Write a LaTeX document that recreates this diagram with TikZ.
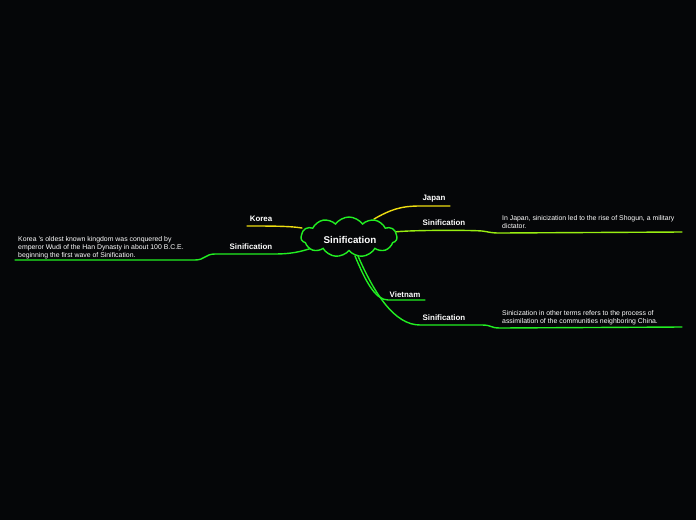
\documentclass[tikz,border=0pt]{standalone}
\usepackage{fontspec}
\setmainfont{Liberation Sans}
\usetikzlibrary{shapes.symbols}
\definecolor{bg}{HTML}{050608}
\definecolor{gr}{HTML}{22EE22}
\definecolor{yl}{HTML}{EEDD11}
\definecolor{yg}{HTML}{99EE11}
\begin{document}
\begin{tikzpicture}[x=1pt,y=-1pt,
  lbl/.style={text=white,font=\bfseries\fontsize{7.9}{8.5}\selectfont,inner sep=0},
  note/.style={text=white,font=\fontsize{6.9}{8}\selectfont,align=left,inner sep=0,anchor=west},
  br/.style={line width=1.4pt,line cap=round}]
\fill[bg] (0,0) rectangle (696,520);
\useasboundingbox (0,0) rectangle (696,520);
\coordinate (k1) at (302,228); \coordinate (k2) at (247,226);
\coordinate (j1) at (374,219); \coordinate (j2) at (450,206);
\coordinate (s1) at (394,232); \coordinate (s2) at (682,232);
\coordinate (l1) at (312,248); \coordinate (l2) at (15,260);
\coordinate (v1) at (355,256); \coordinate (v2) at (425,300);
\coordinate (b1) at (358,256); \coordinate (b2) at (682,327);
\draw[br,yl] (k1) .. controls (290,226) and (270,226) .. (k2);
\draw[br,yl] (j1) .. controls (390,210) and (400,206) .. (420,206) -- (j2);
\draw[br,yg] (s1) .. controls (410,230) and (470,230) .. (482,231) .. controls (490,232) and (490,233) .. (500,233) -- (s2);
\draw[br,gr] (l1) .. controls (300,252) and (290,254) .. (275,254) -- (215,254) .. controls (205,254) and (205,260) .. (195,260) -- (l2);
\draw[br,gr] (v1) .. controls (365,280) and (375,300) .. (388,300) -- (v2);
\draw[br,gr] (b1) .. controls (375,295) and (395,325) .. (420,325) -- (482,325) .. controls (492,325) and (490,328) .. (500,328) -- (b2);
\node[cloud,cloud puffs=11,cloud puff arc=110,aspect=2.6,draw=gr,line width=1.4pt,fill=bg,minimum width=96pt,minimum height=40pt,inner sep=0] (c) at (349,237) {};
\node[lbl,font=\bfseries\fontsize{9.8}{10}\selectfont] (ct) at (350,239.5) {Sinification};
\node[lbl] (kl) at (261,219) {Korea};
\node[lbl] (jl) at (434,199) {Japan};
\node[lbl] (sl) at (444,223) {Sinification};
\node[lbl] (ll) at (251,247) {Sinification};
\node[lbl] (vl) at (405,295) {Vietnam};
\node[lbl] (bl) at (444,318) {Sinification};
\node[note] (n1) at (502,222.5) {In Japan, sinicization led to the rise of Shogun, a military\\dictator.};
\node[note] (n2) at (18,247.5) {Korea 's oldest known kingdom was conquered by\\emperor Wudi of the Han Dynasty in about 100 B.C.E.\\beginning the first wave of Sinification.};
\node[note] (n3) at (502,318) {Sinicization in other terms refers to the process of\\assimilation of the communities neighboring China.};
\end{tikzpicture}
\end{document}
